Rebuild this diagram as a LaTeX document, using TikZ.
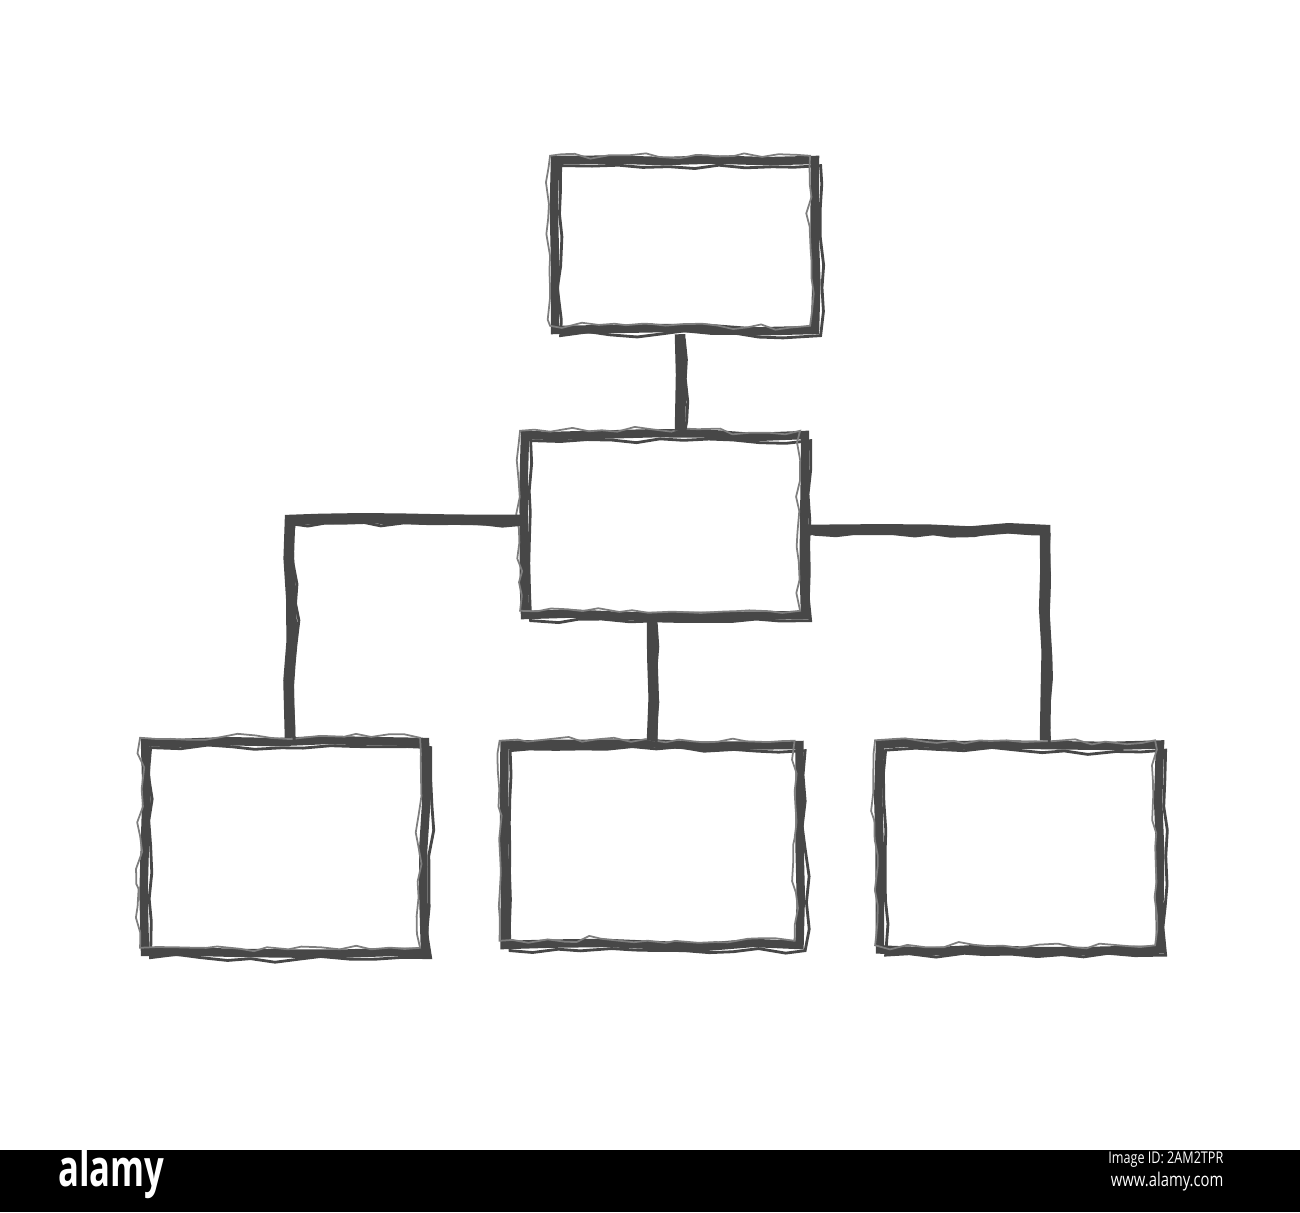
\documentclass[tikz,border=0pt]{standalone}
\usepackage{fontspec}
\setsansfont{Open Sans}
\usetikzlibrary{decorations.pathmorphing, positioning}
\definecolor{sketch}{HTML}{474747}
\newcommand{\barheight}{0.62}

\begin{document}
\begin{tikzpicture}[
      % GLOBAL CFG
      font=\sffamily,
      % Styles
      box/.style={% For boxes
        rectangle,
        draw=sketch,
        line width=2.4pt,
        decorate,
        decoration={random steps, segment length=5mm, amplitude=0.6pt},
        postaction={draw=sketch, line width=0.8pt, decorate,
          transform canvas={shift={(1.6pt,-1.6pt)}},
          decoration={random steps, segment length=2.5mm, amplitude=1pt}},
        postaction={draw=sketch!70, line width=0.5pt, decorate,
          transform canvas={shift={(-1.4pt,1.2pt)}},
          decoration={random steps, segment length=1.5mm, amplitude=1pt}}
      },
      link/.style={% For connectors
        draw=sketch,
        line width=3pt,
        decorate,
        decoration={random steps, segment length=4mm, amplitude=0.5pt},
        postaction={draw=sketch, line width=0.8pt, decorate,
          transform canvas={shift={(1.2pt,-1.2pt)}},
          decoration={random steps, segment length=2mm, amplitude=1pt}}
      }
      ]

      % Canvas
      \useasboundingbox (0,0) rectangle (13,12.12);

      % Boxes
      \node [box, minimum width=2.6cm, minimum height=1.7cm] (top) at (6.85,9.67) {};
      \node [box, minimum width=2.8cm, minimum height=1.8cm] (middle) at (6.65,6.87) {};
      \node [box, minimum width=2.8cm, minimum height=2.1cm] (left) at (2.85,3.65) {};
      \node [box, minimum width=2.95cm, minimum height=2cm] (centre) at (6.52,3.67) {};
      \node [box, minimum width=2.8cm, minimum height=2.05cm] (right) at (10.2,3.65) {};

      % Connectors
      \draw [link] (top.south -| 6.8,0) -- (middle.north -| 6.8,0);
      \draw [link] ([yshift=0.05cm]middle.west) -| ([xshift=0.05cm]left.north);
      \draw [link] (middle.south -| centre.north) -- (centre.north);
      \draw [link] ([yshift=-0.05cm]middle.east) -| ([xshift=0.25cm]right.north);

      % Bottom bar
      \fill [black] (0,0) rectangle (13,\barheight);
      \node [text=white, font=\sffamily\bfseries\fontsize{14.5}{14.5}\selectfont, xscale=0.68, transform shape, anchor=west] (brand) at (0.5,0.39) {alamy};
      \node [text=white, font=\sffamily\fontsize{4.6}{5}\selectfont, xscale=0.78, transform shape, anchor=east] (imageid) at (12.33,0.52) {Image ID: 2AM2TPR};
      \node [text=white, font=\sffamily\fontsize{5.4}{6}\selectfont, xscale=0.78, transform shape, anchor=east] (website) at (12.33,0.3) {www.alamy.com};

    \end{tikzpicture}
\end{document}
